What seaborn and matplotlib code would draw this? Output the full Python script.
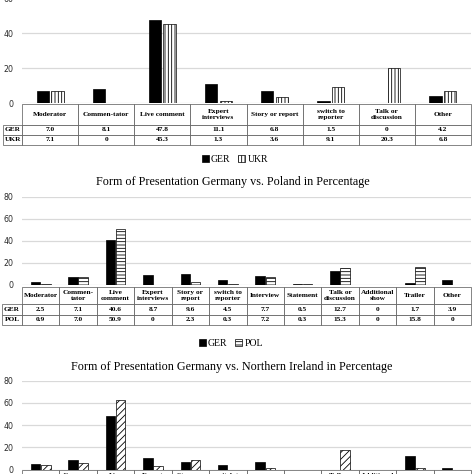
#!/usr/bin/env python3
import matplotlib
matplotlib.use("Agg")
import matplotlib.pyplot as plt
from matplotlib.patches import Patch
import pandas as pd
import seaborn as sns

W = H = 474
DPI = 100

# Germany vs. Ukraine
UKR_CATS = ["Moderator", "Commentator", "Live comment", "Expert interviews",
            "Story or report", "switch to reporter", "Talk or discussion", "Other"]
UKR_HEADERS = ["Moderator", "Commen-tator", "Live comment", "Expert\ninterviews",
               "Story or report", "switch to\nreporter", "Talk or\ndiscussion", "Other"]
UKR_GER = [7.0, 8.1, 47.8, 11.1, 6.8, 1.5, 0, 4.2]
UKR_UKR = [7.1, 0, 45.3, 1.3, 3.6, 9.1, 20.3, 6.8]

# Germany vs. Poland
POL_CATS = ["Moderator", "Commentator", "Live comment", "Expert interviews",
            "Story or report", "switch to reporter", "Interview", "Statement",
            "Talk or discussion", "Additional show", "Trailer", "Other"]
POL_HEADERS = ["Moderator", "Commen-\ntator", "Live\ncomment", "Expert\ninterviews",
               "Story or\nreport", "switch to\nreporter", "Interview", "Statement",
               "Talk or\ndiscussion", "Additional\nshow", "Trailer", "Other"]
POL_GER = [2.5, 7.1, 40.6, 8.7, 9.6, 4.5, 7.7, 0.5, 12.7, 0, 1.7, 3.9]
POL_POL = [0.9, 7.0, 50.9, 0, 2.3, 0.3, 7.2, 0.3, 15.3, 0, 15.8, 0]

# Germany vs. Northern Ireland (table cut off in the source)
NI_CATS = POL_CATS
NI_HEADERS = POL_HEADERS
NI_GER = [5.1, 8.7, 48.4, 10.2, 6.9, 4.0, 6.6, 0, 0, 0, 12.0, 1.1]
NI_NI = [4.2, 6.0, 62.8, 3.3, 8.7, 0, 1.3, 0, 17.3, 0, 1.3, 0]

SERIF = "Liberation Serif"
plt.rcParams["hatch.linewidth"] = 0.6

fig = plt.figure(figsize=(W / DPI, H / DPI), dpi=DPI)


def px_axes(x0, y0, x1, y1):
    # pixel box (from top-left) -> figure axes
    return fig.add_axes([x0 / W, 1 - y1 / H, (x1 - x0) / W, (y1 - y0) / H])


def fmt(v):
    return "0" if v == 0 else f"{v:.1f}"


def bar_panel(box, cats, ger, other, name, hatch, ymax, width, gap):
    ax = px_axes(*box)
    df = pd.DataFrame({
        "category": cats * 2,
        "value": ger + other,
        "country": ["GER"] * len(cats) + [name] * len(cats),
    })
    sns.barplot(data=df, x="category", y="value", hue="country",
                order=cats, hue_order=["GER", name],
                palette=["black", "white"], saturation=1,
                width=width, gap=gap, errorbar=None,
                edgecolor="black", linewidth=0.5, legend=False, ax=ax)
    for bar in ax.containers[1]:
        bar.set_hatch(hatch)
    ax.set_xlim(-0.5, len(cats) - 0.5)
    ax.set_ylim(0, ymax)
    ax.set_yticks(range(0, ymax + 1, 20))
    ax.yaxis.grid(True, color="#d9d9d9", lw=0.9)
    ax.set_axisbelow(True)
    ax.set_xticks([])
    ax.set(xlabel=None, ylabel=None)
    for s in ax.spines.values():
        s.set_visible(False)
    ax.tick_params(axis="y", length=0, pad=6, labelsize=5.7, labelcolor="#2b2b2b")
    return ax


def data_table(box, headers, ger, other, name, label_w, col_w, head_h):
    # first column holds the row labels, corner cell stays blank
    tax = px_axes(*box)
    tax.axis("off")
    rows = [["GER"] + [fmt(v) for v in ger], [name] + [fmt(v) for v in other]]
    tb = tax.table(cellText=rows, colLabels=[""] + headers,
                   cellLoc="center", bbox=[0, 0, 1, 1])
    tb.auto_set_font_size(False)
    tb.set_fontsize(5.3)
    for (r, c), cell in tb.get_celld().items():
        cell.set_edgecolor("#555555")
        cell.set_linewidth(0.5)
        cell.set_width(label_w if c == 0 else col_w)
        cell.set_height(head_h if r == 0 else 10)
        cell.PAD = 0.02
        cell.get_text().set_fontfamily(SERIF)
        cell.get_text().set_fontweight("bold")
        if r == 0 and c == 0:
            cell.visible_edges = "open"
    return tb


def legend(cx, cy, name, hatch):
    handles = [Patch(facecolor="black", edgecolor="black", lw=0.5, label="GER"),
               Patch(facecolor="white", edgecolor="black", lw=0.5, hatch=hatch, label=name)]
    fig.legend(handles=handles, loc="center", bbox_to_anchor=(cx / W, 1 - cy / H),
               ncol=2, frameon=False, handlelength=0.7, handleheight=0.7,
               handletextpad=0.25, columnspacing=0.8, borderpad=0,
               prop={"family": SERIF, "size": 7})


# top panel
bar_panel((22, -1.7, 471, 103.3), UKR_CATS, UKR_GER, UKR_UKR, "UKR", "|||||", 60, 0.52, 0.15)
data_table((3, 104.5, 471, 145), UKR_HEADERS, UKR_GER, UKR_UKR, "UKR", 19, 56.1, 20)
legend(235, 159, "UKR", "|||||")

# middle panel
fig.text(233 / W, 1 - 182.5 / H, "Form of Presentation Germany vs. Poland in Percentage",
         ha="center", va="center", family=SERIF, fontsize=8.7)
bar_panel((22, 196.7, 471, 284.5), POL_CATS, POL_GER, POL_POL, "POL", "-----", 80, 0.54, 0.06)
data_table((2, 287, 471, 325), POL_HEADERS, POL_GER, POL_POL, "POL", 20, 37.4, 17)
legend(231, 343, "POL", "-----")

# bottom panel
fig.text(232 / W, 1 - 367 / H, "Form of Presentation Germany vs. Northern Ireland in Percentage",
         ha="center", va="center", family=SERIF, fontsize=8.7)
bar_panel((22, 380.7, 471, 469.5), NI_CATS, NI_GER, NI_NI, "NI", "/////", 80, 0.54, 0.06)
data_table((2, 470, 471, 508), NI_HEADERS, NI_GER, NI_NI, "NI", 20, 37.4, 17)

fig.savefig("out.png", dpi=DPI)
